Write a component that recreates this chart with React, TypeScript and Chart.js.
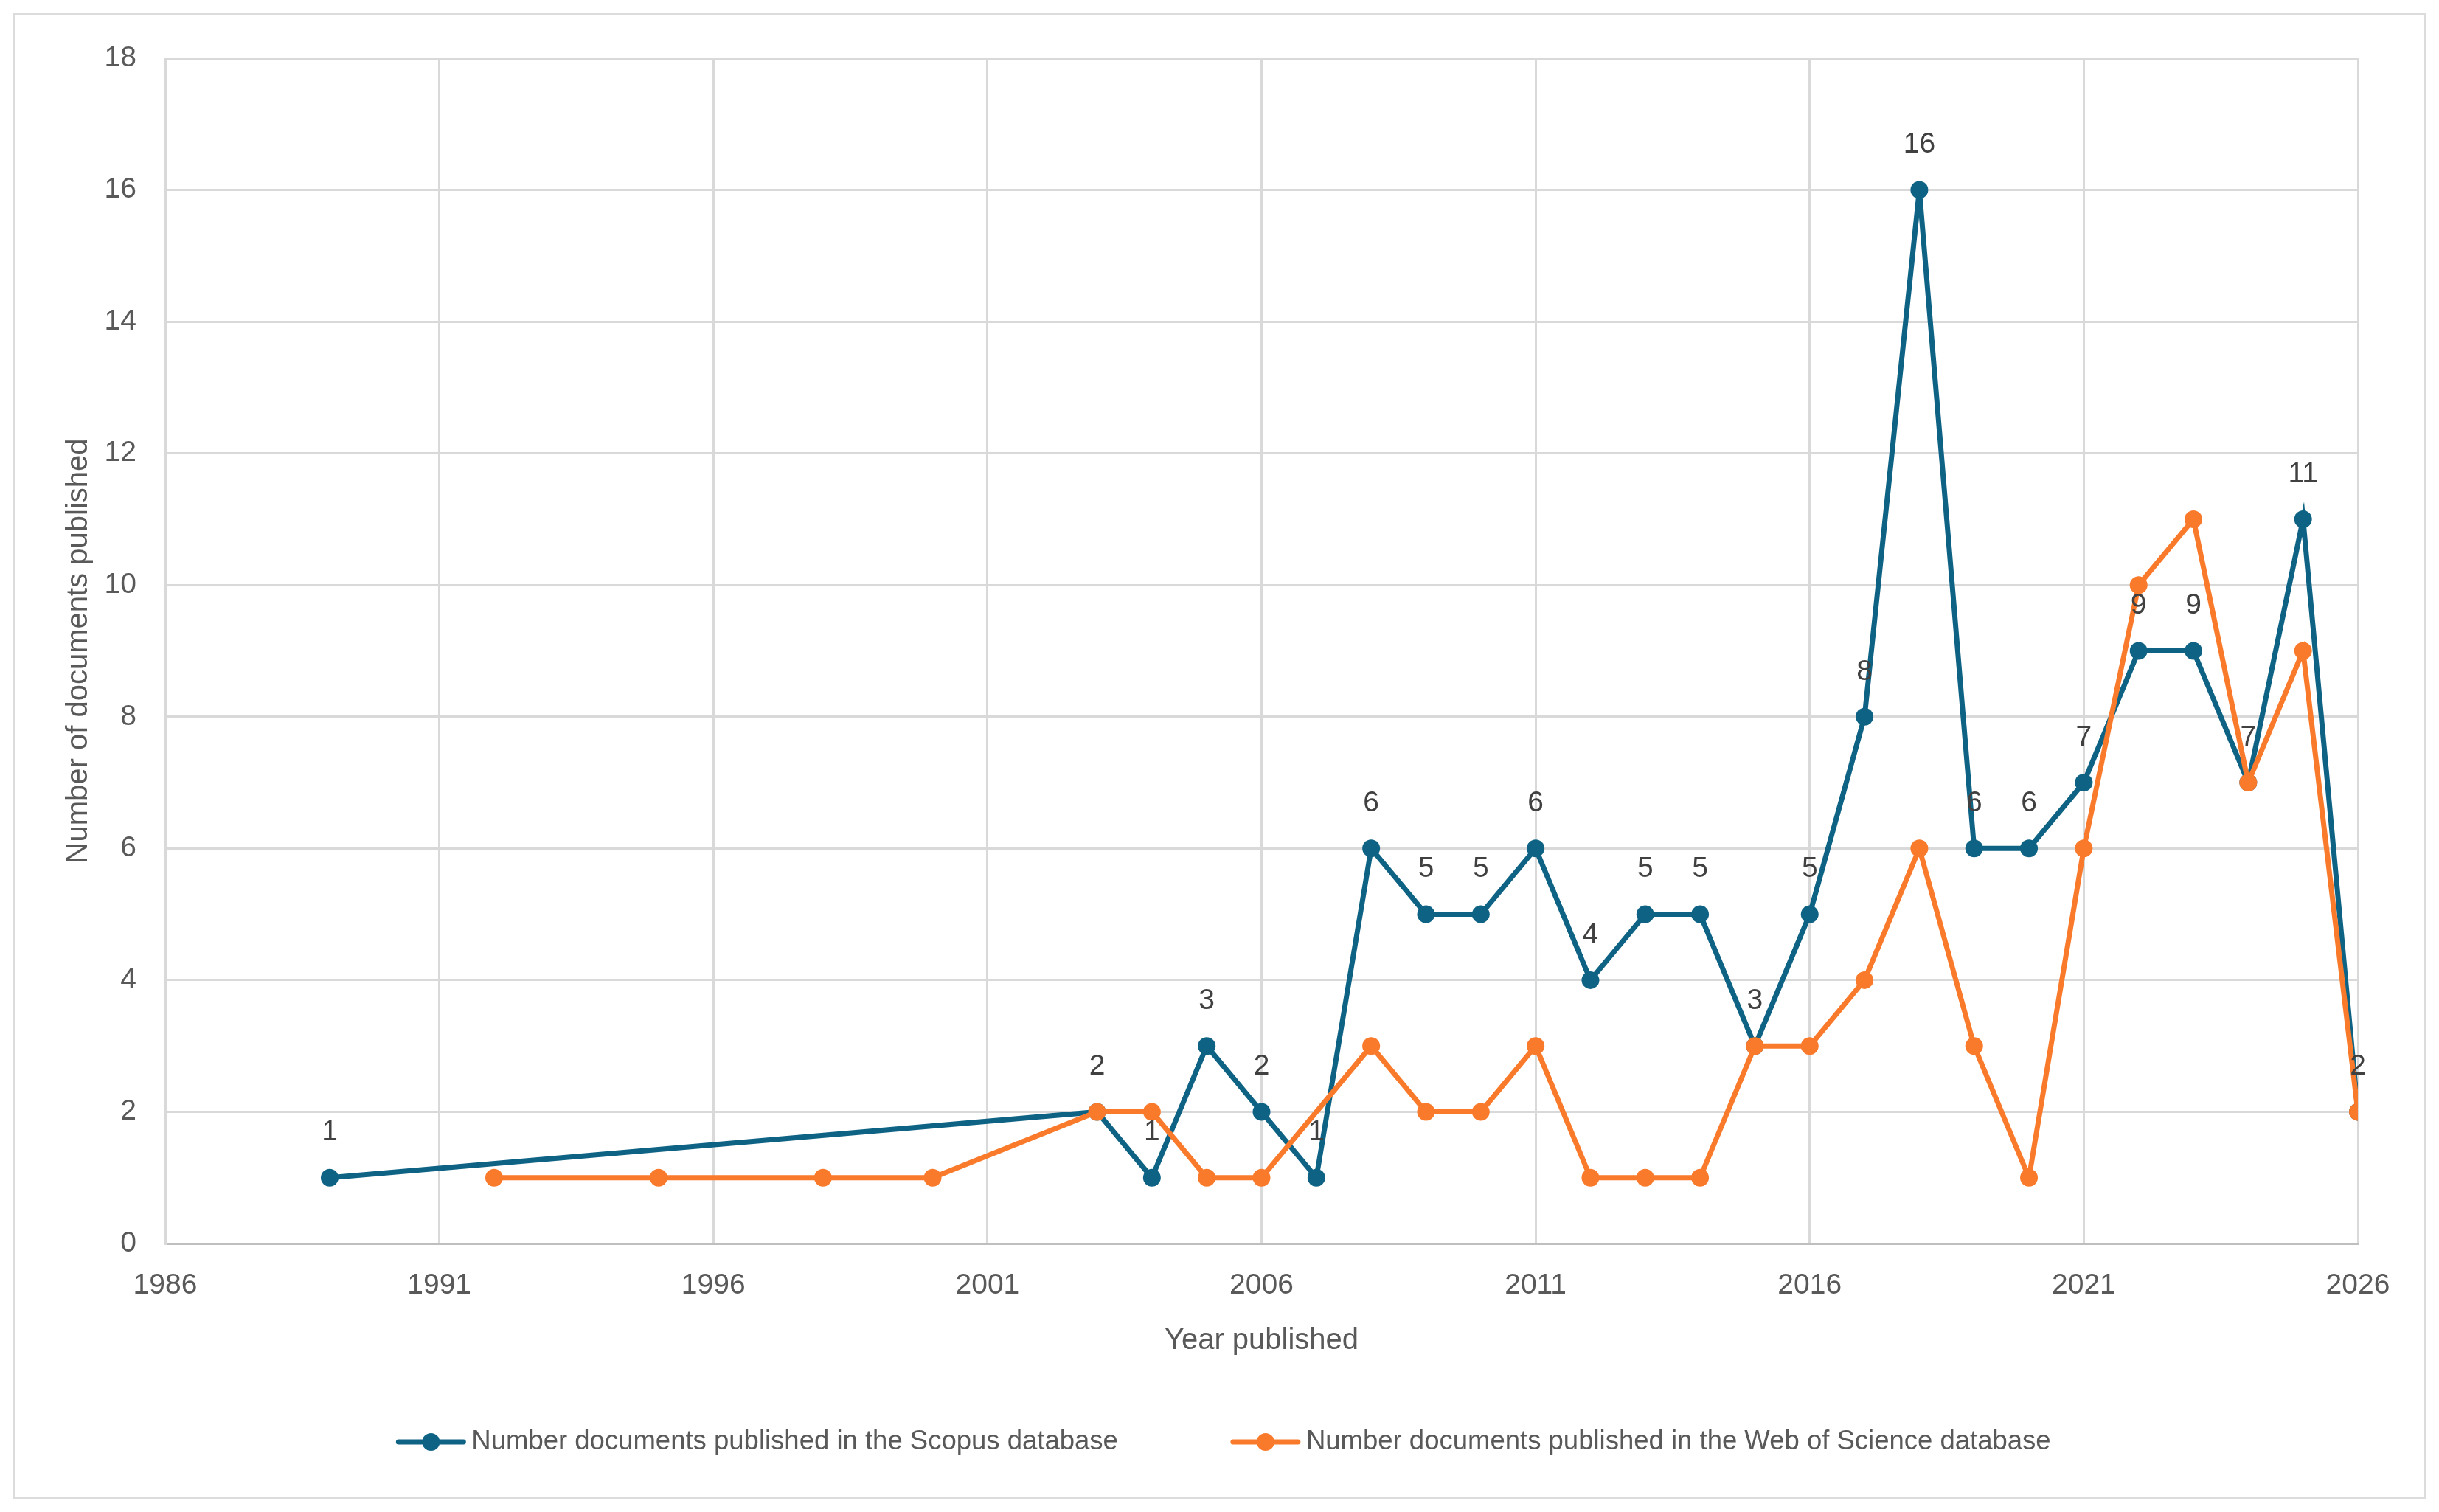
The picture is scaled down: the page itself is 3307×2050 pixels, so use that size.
import React, { useEffect, useRef } from "react";
import { Chart, registerables } from "chart.js";

Chart.register(...registerables);

// ---- Data ----
const scopusYears = [1989, 2003, 2004, 2005, 2006, 2007, 2008, 2009, 2010, 2011, 2012, 2013, 2014, 2015, 2016, 2017, 2018, 2019, 2020, 2021, 2022, 2023, 2024, 2025, 2026];
const scopusCounts = [1, 2, 1, 3, 2, 1, 6, 5, 5, 6, 4, 5, 5, 3, 5, 8, 16, 6, 6, 7, 9, 9, 7, 11, 2];

const wosYears = [1992, 1995, 1998, 2000, 2003, 2004, 2005, 2006, 2008, 2009, 2010, 2011, 2012, 2013, 2014, 2015, 2016, 2017, 2018, 2019, 2020, 2021, 2022, 2023, 2024, 2025, 2026];
const wosCounts = [1, 1, 1, 1, 2, 2, 1, 1, 3, 2, 2, 3, 1, 1, 1, 3, 3, 4, 6, 3, 1, 6, 10, 11, 7, 9, 2];

const seriesLabels = [
  "Number documents published in the Scopus database",
  "Number documents published in the Web of Science database",
];
const xRange = { min: 1986, max: 2026, step: 5 };
const yRange = { min: 0, max: 18, step: 2 };
const xTitle = "Year published";
const yTitle = "Number of documents published";

// ---- Styles ----
const FONT = "'Liberation Sans', Arial, sans-serif";
const TEAL = "#0E6384";
const ORANGE = "#FA7A2C";
const GRID = "#D9D9D9";
const TEXT = "#595959";
const LABEL = "#404040";

const W = 3307;
const H = 2050;

const framePlugin = {
  id: "frame",
  beforeDraw(chart: any) {
    const ctx = chart.ctx;
    ctx.save();
    ctx.fillStyle = "#FFFFFF";
    ctx.fillRect(0, 0, chart.width, chart.height);
    ctx.strokeStyle = "#DCDCDC";
    ctx.lineWidth = 3;
    ctx.strokeRect(19.5, 19.5, 3268, 2012);
    ctx.restore();
  },
};

const dataLabelPlugin = {
  id: "pointLabels",
  afterDatasetsDraw(chart: any) {
    const ctx = chart.ctx;
    const meta = chart.getDatasetMeta(0);
    const ds = chart.data.datasets[0];
    ctx.save();
    ctx.font = `39px ${FONT}`;
    ctx.fillStyle = LABEL;
    ctx.textAlign = "center";
    ctx.textBaseline = "middle";
    meta.data.forEach((pt: any, i: number) => {
      const v = ds.data[i].y;
      ctx.fillText(String(v), pt.x, pt.y - 61);
    });
    ctx.restore();
  },
};

const legendPlugin = {
  id: "lineLegend",
  afterDraw(chart: any) {
    const ctx = chart.ctx;
    ctx.save();
    ctx.font = `36.5px ${FONT}`;
    ctx.textBaseline = "middle";
    const items = chart.data.datasets.map((d: any) => ({ label: d.label, color: d.borderColor }));
    const markerW = 94;
    const gap = 8;
    const spacing = 153;
    const widths = items.map((it: any) => ctx.measureText(it.label).width);
    const total = widths.reduce((a: number, w: number) => a + markerW + gap + w, 0) + spacing * (items.length - 1);
    const cy = 1955;
    let x = 1659 - total / 2;
    items.forEach((it: any, i: number) => {
      ctx.strokeStyle = it.color;
      ctx.lineWidth = 7;
      ctx.lineCap = "round";
      ctx.beginPath();
      ctx.moveTo(x + 3, cy);
      ctx.lineTo(x + markerW - 3, cy);
      ctx.stroke();
      ctx.fillStyle = it.color;
      ctx.beginPath();
      ctx.arc(x + markerW / 2, cy, 12, 0, Math.PI * 2);
      ctx.fill();
      ctx.fillStyle = TEXT;
      ctx.textAlign = "left";
      ctx.fillText(it.label, x + markerW + gap, cy);
      x += markerW + gap + widths[i] + spacing;
    });
    ctx.restore();
  },
};

export default function App() {
  const ref = useRef<HTMLCanvasElement | null>(null);

  useEffect(() => {
    document.body.style.margin = "0";
    if (!ref.current) return;
    const scopus = scopusYears.map((x, i) => ({ x, y: scopusCounts[i] }));
    const wos = wosYears.map((x, i) => ({ x, y: wosCounts[i] }));
    const chart = new Chart(ref.current, {
      type: "line",
      data: {
        datasets: [
          {
            label: seriesLabels[0],
            data: scopus,
            borderColor: TEAL,
            backgroundColor: TEAL,
            pointBackgroundColor: TEAL,
            pointBorderColor: TEAL,
            borderWidth: 7,
            pointRadius: 12,
            pointBorderWidth: 0,
            tension: 0,
            order: 2,
          },
          {
            label: seriesLabels[1],
            data: wos,
            borderColor: ORANGE,
            backgroundColor: ORANGE,
            pointBackgroundColor: ORANGE,
            pointBorderColor: ORANGE,
            borderWidth: 7,
            pointRadius: 12,
            pointBorderWidth: 0,
            tension: 0,
            order: 1,
          },
        ],
      },
      options: {
        responsive: false,
        animation: false,
        devicePixelRatio: 1,
        layout: { padding: { top: 79, right: 110, bottom: 194, left: 0 } },
        plugins: {
          legend: { display: false },
          tooltip: { enabled: false },
        },
        scales: {
          x: {
            type: "linear",
            min: xRange.min,
            max: xRange.max,
            afterFit: (s: any) => {
              s.height = 170;
            },
            ticks: {
              stepSize: xRange.step,
              color: TEXT,
              font: { family: FONT, size: 39 },
              padding: 34,
              maxRotation: 0,
              callback: (v: any) => String(v),
            },
            grid: { color: GRID, lineWidth: 3, drawTicks: false },
            border: { color: "#BFBFBF", width: 3 },
            title: {
              display: true,
              text: xTitle,
              color: TEXT,
              font: { family: FONT, size: 40 },
              padding: { top: 0, bottom: 14 },
            },
          },
          y: {
            min: yRange.min,
            max: yRange.max,
            afterFit: (s: any) => {
              s.width = 224;
            },
            ticks: {
              stepSize: yRange.step,
              color: TEXT,
              font: { family: FONT, size: 39 },
              padding: 39,
            },
            grid: { color: GRID, lineWidth: 3, drawTicks: false },
            border: { color: GRID, width: 3 },
            title: {
              display: true,
              text: yTitle,
              color: TEXT,
              font: { family: FONT, size: 40 },
              padding: { top: 83, bottom: 0 },
            },
          },
        },
      },
      plugins: [framePlugin, dataLabelPlugin, legendPlugin],
    } as any);
    return () => chart.destroy();
  }, []);

  return (
    <div style={{ width: W, height: H, background: "#fff" }}>
      <canvas ref={ref} width={W} height={H} style={{ display: "block", width: W, height: H }} />
    </div>
  );
}
